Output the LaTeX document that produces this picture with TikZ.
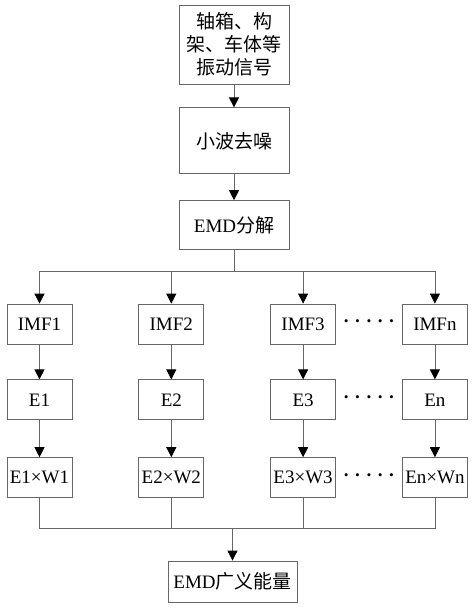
\documentclass[tikz,border=0pt]{standalone}
\usepackage{fontspec}
\setmainfont{Liberation Serif}
\newfontfamily\cjk{Noto Sans CJK SC}
\usetikzlibrary{arrows.meta,positioning,calc}
\newcommand{\dotrow}{\textbf{·\hspace{5pt}·\hspace{5pt}·\hspace{5pt}·\hspace{5pt}·}}

\begin{document}
\begin{tikzpicture}[x=1pt,y=-1pt,
			node distance=35pt and 66pt,
			block/.style={rectangle, draw=black!60, line width=0.8pt, minimum width=65pt, minimum height=40pt, inner sep=2pt, align=center, font=\fontsize{19}{23}\selectfont},
			wide/.style={block, minimum width=110pt},
			line/.style={draw=black!60, line width=0.8pt},
			arrow/.style={line, -{Triangle[width=10pt,length=10pt,color=black]}},
			dots/.style={font=\fontsize{19}{23}\selectfont, inner sep=0pt}
		]
		\useasboundingbox (0,0) rectangle (474,612);

		% Chain at the top
		\node (signal) [wide, minimum height=79pt] at (234,44.5) {{\cjk 轴箱、构}\\{\cjk 架、车体等}\\{\cjk 振动信号}};
		\node (denoise) [wide, minimum height=66pt, below=23pt of signal] {\cjk 小波去噪};
		\node (emd) [wide, minimum height=49pt, below=26pt of denoise] {EMD{\cjk 分解}};

		% IMF columns
		\node (imf1) [block] at (39.5,324) {IMF1};
		\node (imf2) [block, right=of imf1] {IMF2};
		\node (imf3) [block, right=of imf2] {IMF3};
		\node (imfn) [block, right=of imf3] {IMFn};

		\node (e1) [block, below=of imf1] {E1};
		\node (e2) [block, below=of imf2] {E2};
		\node (e3) [block, below=of imf3] {E3};
		\node (en) [block, below=of imfn] {En};

		\node (w1) [block, below=37pt of e1] {E1×W1};
		\node (w2) [block, below=37pt of e2] {E2×W2};
		\node (w3) [block, below=37pt of e3] {E3×W3};
		\node (wn) [block, below=37pt of en] {En×Wn};

		\node (dotsimf) [dots] at ($(imf3.east)!0.5!(imfn.west)$) {\dotrow};
		\node (dotse) [dots] at ($(e3.east)!0.5!(en.west)$) {\dotrow};
		\node (dotsw) [dots] at ($(w3.east)!0.5!(wn.west)$) {\dotrow};

		\node (total) [block, minimum width=129pt, minimum height=41pt] at (232.5,581.5) {EMD{\cjk 广义能量}};

		% Lines
		\coordinate (split) at (234,271);
		\coordinate (merge) at (232.5,528);
		\draw [arrow] (signal) -- (denoise);
		\draw [arrow] (denoise) -- (emd);
		\draw [line] (emd) -- (split);
		\foreach \n in {imf1,imf2,imf3,imfn}
			\draw [arrow] (split) -| (\n);
		\draw [arrow] (imf1) -- (e1);
		\draw [arrow] (imf2) -- (e2);
		\draw [arrow] (imf3) -- (e3);
		\draw [arrow] (imfn) -- (en);
		\draw [arrow] (e1) -- (w1);
		\draw [arrow] (e2) -- (w2);
		\draw [arrow] (e3) -- (w3);
		\draw [arrow] (en) -- (wn);
		\foreach \n in {w1,w2,w3,wn}
			\draw [line] (\n) |- (merge);
		\draw [arrow] (merge) -- (total);
	\end{tikzpicture}
\end{document}
